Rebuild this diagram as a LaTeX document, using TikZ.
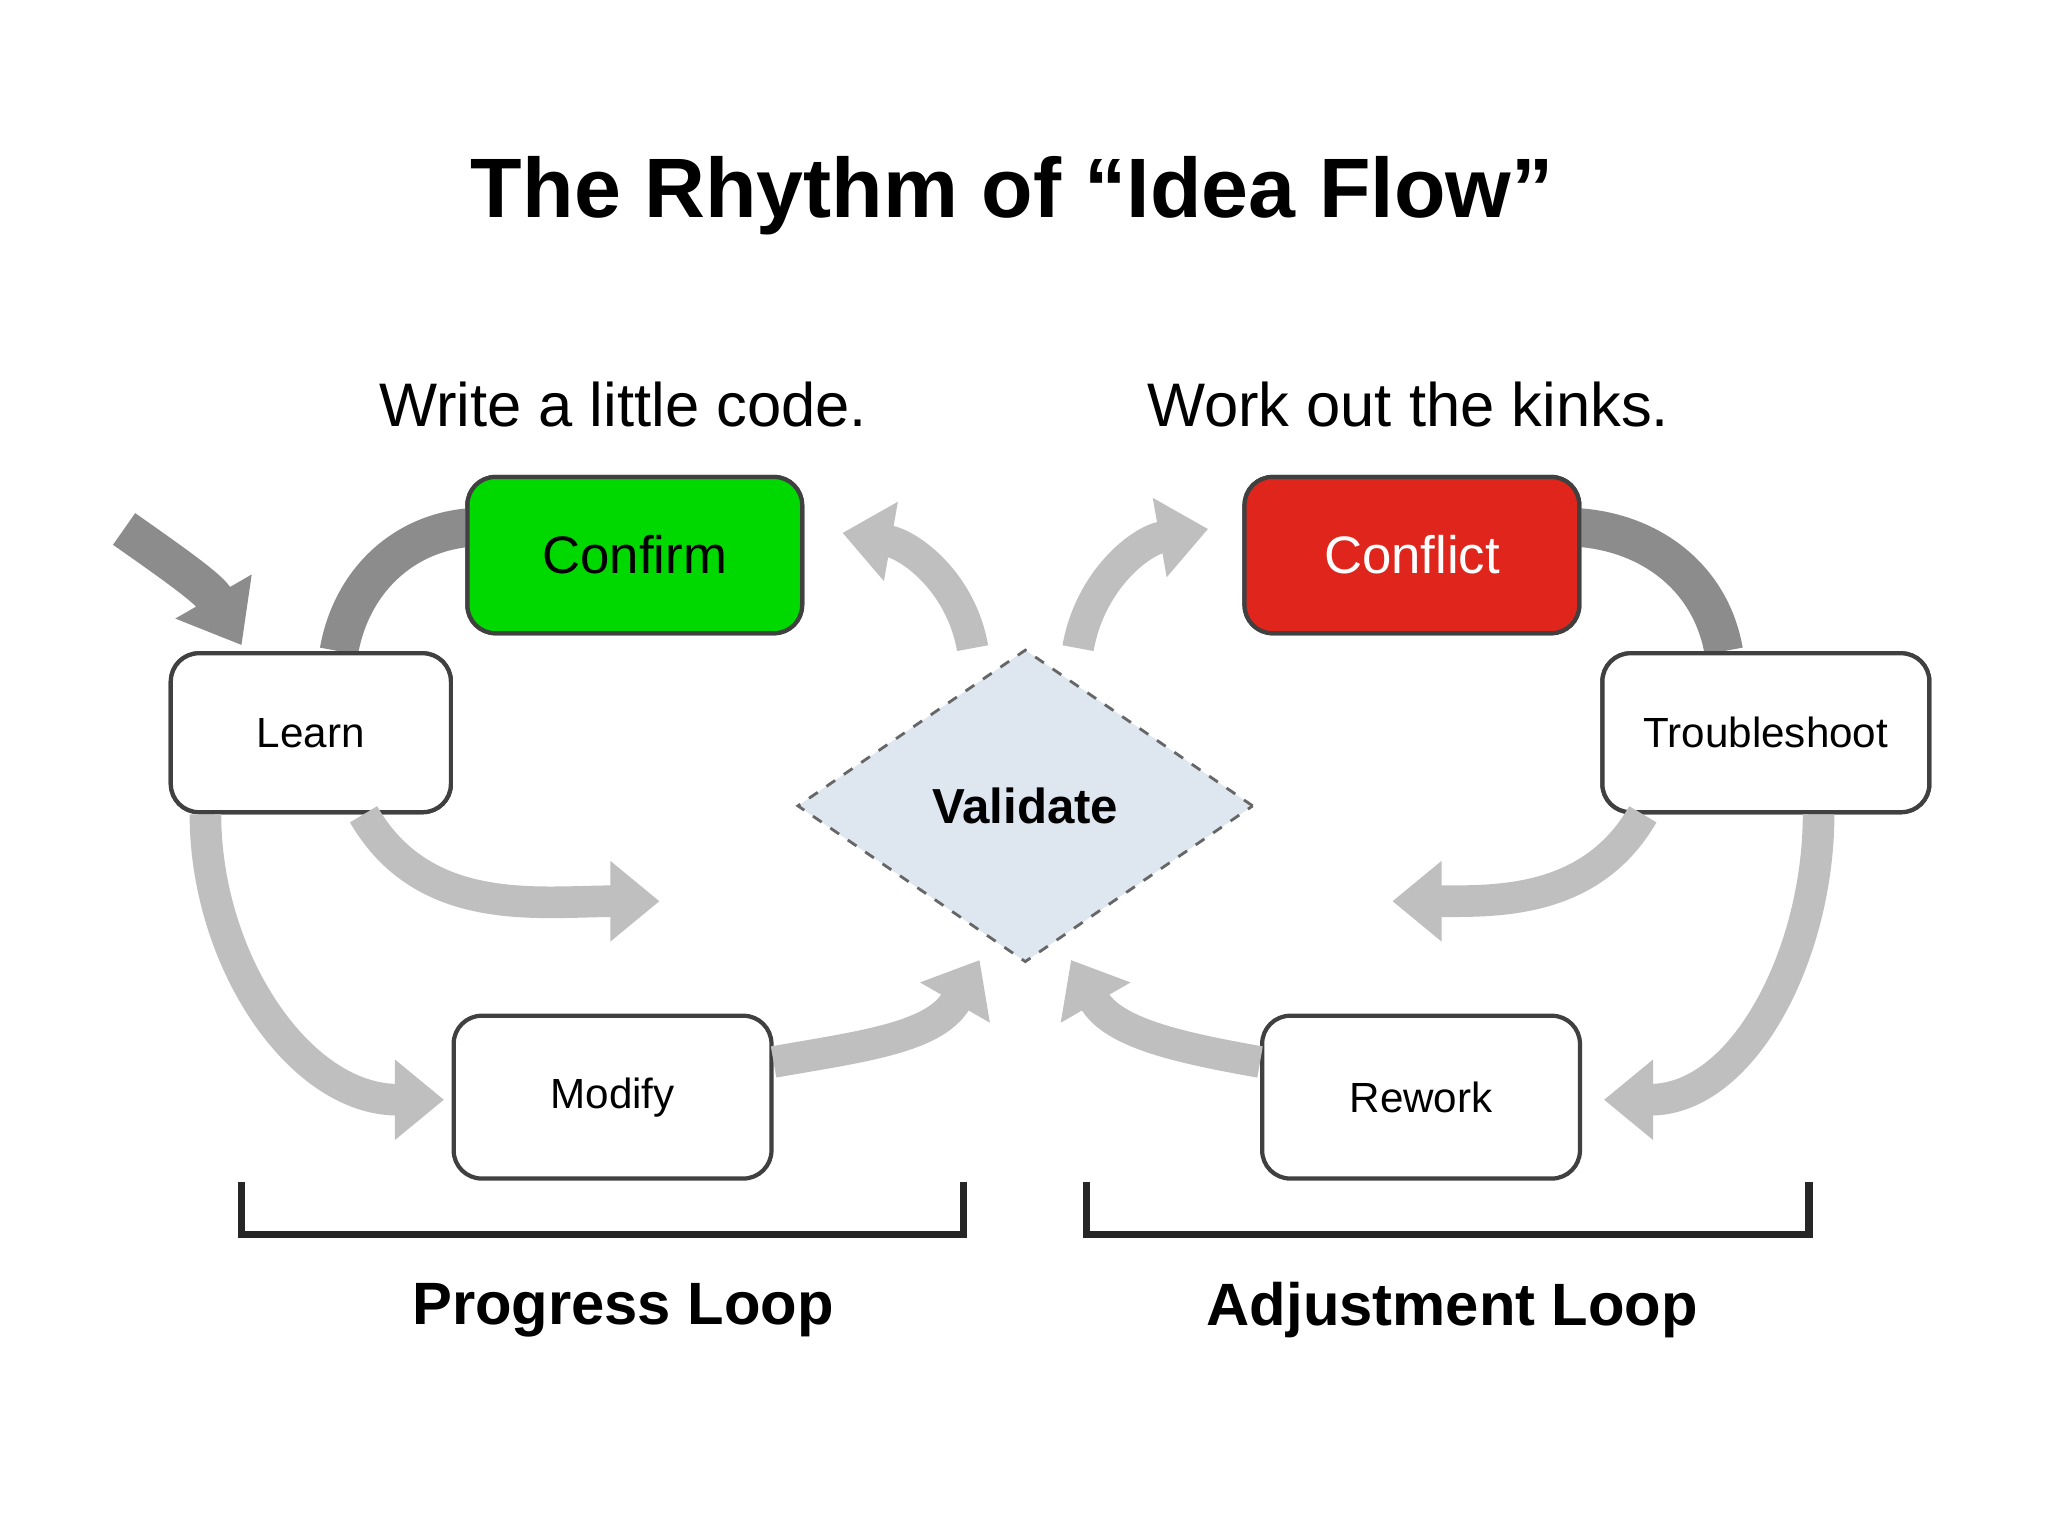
\documentclass[tikz,border=0pt]{standalone}
\usepackage{fontspec}
\setmainfont{Liberation Sans}
\usetikzlibrary{arrows.meta,shapes.geometric}
\begin{document}
\begin{tikzpicture}[x=0.01306cm,y=-0.01306cm,
 box/.style={draw=black!75,line width=1.2pt,rounded corners=8pt,fill=white,inner sep=0pt},
 lab/.style={font=\fontsize{12}{14}\selectfont},
 big/.style={font=\fontsize{15}{18}\selectfont},
 darr/.style={draw=black!45,line width=11pt},
 larr/.style={draw=black!25,line width=9pt,-{Triangle[width=22pt,length=14pt]}},
 brk/.style={draw=black!85,line width=2pt}]
\useasboundingbox (0,0) rectangle (1568,1176);
\node[font=\bfseries\fontsize{24}{29}\selectfont] (title) at (775,150) {The Rhythm of “Idea Flow”};
\node[font=\fontsize{17.5}{21}\selectfont] (t1) at (477,310) {Write a little code.};
\node[font=\fontsize{17.5}{21}\selectfont] (t2) at (1078,310) {Work out the kinks.};
% dark arcs first (under boxes)
\coordinate (e1) at (95,405);
\draw[darr,-{Triangle[width=24pt,length=16pt]}] (e1) to[out=-35,in=120] (185,494);
\node[box,minimum width=257*0.3706pt,minimum height=120*0.3706pt] (confirm) at (486,425) {};
\node[box,minimum width=257*0.3706pt,minimum height=120*0.3706pt] (conflict) at (1081,425) {};
\node[box,minimum width=215*0.3706pt,minimum height=122*0.3706pt] (learn) at (238,561) {};
\node[box,minimum width=251*0.3706pt,minimum height=122*0.3706pt] (trouble) at (1352,561) {};
\draw[darr] ([xshift=8]learn.north) to[out=80,in=180] ([xshift=5,yshift=8]confirm.west);
\draw[darr] ([xshift=-5,yshift=8]conflict.east) to[out=0,in=100] ([xshift=-12]trouble.north);
\node[box,fill=green!85!black,minimum width=257*0.3706pt,minimum height=120*0.3706pt,big] at (486,425) {Confirm};
\node[box,fill={rgb,255:red,224;green,38;blue,28},text=white,minimum width=257*0.3706pt,minimum height=120*0.3706pt,big] at (1081,425) {Conflict};
\node[box,minimum width=215*0.3706pt,minimum height=122*0.3706pt,lab] at (238,561) {Learn};
\node[box,minimum width=251*0.3706pt,minimum height=122*0.3706pt,lab] at (1352,561) {Troubleshoot};
\node[box,minimum width=244*0.3706pt,minimum height=125*0.3706pt,lab] (modify) at (469,840) {Modify};
\node[box,minimum width=244*0.3706pt,minimum height=125*0.3706pt,lab] (rework) at (1088,840) {Rework};
\node[diamond,draw=black!60,dashed,line width=0.8pt,fill={rgb,255:red,222;green,230;blue,240},minimum width=350*0.3706pt,minimum height=240*0.3706pt,inner sep=0pt,font=\bfseries\fontsize{14}{17}\selectfont] (val) at (785,617) {Validate};
% light arrows
\draw[larr] ([xshift=15]learn.south) to[out=-60,in=180] (505,690);
\draw[larr] ([xshift=-30]learn.south) to[out=-90,in=180] (340,842);
\draw[larr] ([yshift=10]modify.east) to[out=10,in=-120] (750,735);
\draw[larr] ([xshift=-15]val.north) to[out=100,in=-10] (645,408);
\draw[larr] ([xshift=15]val.north) to[out=80,in=190] (925,405);
\draw[larr] ([xshift=-35]trouble.south) to[out=-120,in=0] (1066,690);
\draw[larr] ([xshift=15]trouble.south) to[out=-90,in=0] (1228,842);
\draw[larr] ([yshift=10]rework.west) to[out=170,in=-60] (820,735);
% brackets
\draw[brk] (185,905) coordinate (b1) -- (185,945) -- (738,945) -- (738,905);
\draw[brk] (832,905) -- (832,945) -- (1385,945) -- (1385,905);
\node[font=\bfseries\fontsize{17}{20}\selectfont] (pl) at (477,1003) {Progress Loop};
\node[font=\bfseries\fontsize{17}{20}\selectfont] (al) at (1112,1003) {Adjustment Loop};
\end{tikzpicture}
\end{document}
